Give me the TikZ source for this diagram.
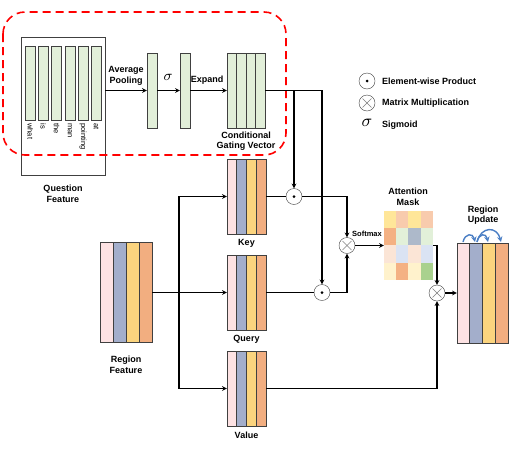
\documentclass[tikz,border=0pt]{standalone}
\usepackage{fontspec}
\setmainfont{Liberation Sans}
\usepackage{tikz}
\usetikzlibrary{shapes.geometric, arrows, calc}
\definecolor{cgreen}{HTML}{E2EFD9}
\definecolor{cpink}{HTML}{FDE2E3}
\definecolor{cblue}{HTML}{A3AECB}
\definecolor{cyellow}{HTML}{FBD47E}
\definecolor{corange}{HTML}{F2AE80}
\definecolor{cedge}{HTML}{404040}
\definecolor{carc}{HTML}{4A7EC4}
\definecolor{mY}{HTML}{FFE699}
\definecolor{mS}{HTML}{F8CBAD}
\definecolor{mO}{HTML}{F4B183}
\definecolor{mG}{HTML}{E2F0D9}
\definecolor{mB}{HTML}{ADB9CA}
\definecolor{mP}{HTML}{FBE5D6}
\definecolor{mL}{HTML}{DAE3F3}
\definecolor{mC}{HTML}{FFF2CC}
\definecolor{mD}{HTML}{A9D18E}
\begin{document}
\begin{tikzpicture}[x=1pt, y=-1pt, font=\bfseries\fontsize{9}{10.5}\selectfont]
% Define styles
\tikzstyle{qbar} = [rectangle, minimum width=10pt, minimum height=74pt, inner sep=0pt, draw=cedge, fill=cgreen]
\tikzstyle{pbar} = [rectangle, minimum width=10pt, minimum height=75pt, inner sep=0pt, draw=cedge, fill=cgreen]
\tikzstyle{word} = [font=\fontsize{7.5}{9}\selectfont, rotate=-90, anchor=west, inner sep=1pt]
\tikzstyle{fmap} = [rectangle, minimum width=39pt, minimum height=75pt, inner sep=0pt]
\tikzstyle{bigmap} = [rectangle, minimum width=52pt, minimum height=100pt, inner sep=0pt]
\tikzstyle{prod} = [circle, draw=cedge, minimum size=16pt, inner sep=0pt, fill=white, path picture={\fill[black] (path picture bounding box.center) circle (1.5pt);}]
\tikzstyle{mmul} = [circle, draw=cedge, minimum size=16pt, inner sep=0pt, fill=white, path picture={\draw[gray] ([shift={(-4.5pt,-4.5pt)}]path picture bounding box.center) -- ([shift={(4.5pt,4.5pt)}]path picture bounding box.center); \draw[gray] ([shift={(-4.5pt,4.5pt)}]path picture bounding box.center) -- ([shift={(4.5pt,-4.5pt)}]path picture bounding box.center);}]
\tikzstyle{lbl} = [align=center, inner sep=0pt]
\tikzstyle{arrow} = [line width=1.1pt, ->, >=stealth]
\tikzstyle{line} = [line width=1.1pt]
\tikzstyle{uarc} = [draw=carc, line width=1.4pt, ->, >=stealth]
\useasboundingbox (0,0) rectangle (519,453);
% Question part
\node (qfeat) [rectangle, draw=cedge, minimum width=84pt, minimum height=138pt] at (63,106) {};
\foreach \w [count=\i] in {what,is,the,man,pointing,at} {
  \node (w\i) [qbar] at ({17+13.2*\i},83) {};
  \node [word] at ($(w\i.south)+(0,2)$) {\mdseries\w};
}
\node (pool1) [pbar] at (152,90.5) {};
\node (pool2) [pbar] at (185,90.5) {};
\node (gate) [fmap, minimum width=38pt] at (246,90.5) {};
\foreach \i in {0,...,3}
  \draw[draw=cedge, fill=cgreen] ($(gate.north west)+(\i*9.5,0)$) rectangle +(9.5,75);
\node [lbl] at (126,76) {Average\\Pooling};
\node [lbl, scale=1.6] at (168,77) {$\sigma$};
\node [lbl] at (207,80) {Expand};
\node [lbl] at (246,141) {Conditional\\Gating Vector};
\node [lbl] at (63,194) {Question\\Feature};
\draw [red, dashed, line width=1.6pt, dash pattern=on 8pt off 5pt, rounded corners=22pt] (3,12) rectangle (286,155);
% Legend
\node (lprod) [prod] at (367,81) {};
\node [anchor=west, inner sep=0pt] at (382,81) {Element-wise Product};
\node (lmul) [mmul] at (367,103) {};
\node [anchor=west, inner sep=0pt] at (382,103) {Matrix Multiplication};
\node (lsig) [lbl, scale=1.9] at (367,123) {$\sigma$};
\node [anchor=west, inner sep=0pt] at (382,125) {Sigmoid};
% Feature maps
\node (key) [fmap] at (246.5,196.5) {};
\node (query) [fmap] at (246.5,292.5) {};
\node (value) [fmap] at (246.5,388.5) {};
\node (region) [bigmap] at (126,292.5) {};
\node (update) [bigmap, minimum width=51pt] at (482.5,293) {};
\foreach \n in {key,query,value}
  \foreach \c [count=\i from 0] in {cpink,cblue,cyellow,corange}
    \draw[draw=cedge, fill=\c] ($(\n.north west)+(\i*9.75,0)$) rectangle +(9.75,75);
\foreach \c [count=\i from 0] in {cpink,cblue,cyellow,corange} {
  \draw[draw=cedge, fill=\c] ($(region.north west)+(\i*13,0)$) rectangle +(13,100);
  \draw[draw=cedge, fill=\c] ($(update.north west)+(\i*12.75,0)$) rectangle +(12.75,100);
}
\node [lbl] at (246.5,243) {Key};
\node [lbl] at (246.5,339) {Query};
\node [lbl] at (246.5,435) {Value};
\node [lbl] at (126,365) {Region\\Feature};
\node [lbl] at (483,215) {Region\\Update};
% Attention mask
\node (mask) [rectangle, minimum width=49pt, minimum height=69pt, inner sep=0pt] at (408.5,245.5) {};
\foreach \c [count=\k from 0] in {mY,mS,mY,mS,mO,mG,mB,mG,mP,mL,mP,mL,mC,mO,mC,mD} {
  \pgfmathtruncatemacro{\r}{floor(\k/4)}
  \pgfmathtruncatemacro{\cc}{\k-4*\r}
  \fill[\c] ($(mask.north west)+(\cc*12.25,\r*17.25)$) rectangle +(12.25,17.25);
}
\node [lbl] at (408,197) {Attention\\Mask};
% Operators
\node (kprod) [prod] at (294,196.5) {};
\node (qprod) [prod] at (322,292.5) {};
\node (mm1) [mmul] at (347,245.5) {};
\node (mm2) [mmul] at (437,293) {};
\node [lbl, font=\fontsize{7.5}{9}\selectfont\bfseries] at (367,234) {Softmax};
\coordinate (split) at (179,292.5);
% Draw arrows
\draw [arrow] (qfeat.east |- pool1.west) -- (pool1.west);
\draw [arrow] (pool1) -- (pool2);
\draw [arrow] (pool2) -- (gate);
\draw [arrow] (gate.east) -| (qprod.north);
\draw [arrow] (gate.east -| kprod.north) -- (kprod.north);
\draw [line] (key) -- (kprod);
\draw [line] (query) -- (qprod);
\draw [arrow] (kprod) -| (mm1.north);
\draw [arrow] (qprod) -| (mm1.south);
\draw [arrow] (mm1) -- (mask);
\draw [arrow] (mask.east) -| (mm2.north);
\draw [arrow] (value) -| (mm2.south);
\draw [arrow] (mm2) -- (update);
\draw [arrow] (region) -- (query);
\draw [arrow] (split) |- (key);
\draw [arrow] (split) |- (value);
\draw [uarc] (463,242) .. controls (465,233) and (473,233) .. (475,242);
\draw [uarc] (477,242) .. controls (479,233) and (486,233) .. (488,242);
\draw [uarc] (477,242) .. controls (481,226) and (497,226) .. (501,242);
\end{tikzpicture}
\end{document}
